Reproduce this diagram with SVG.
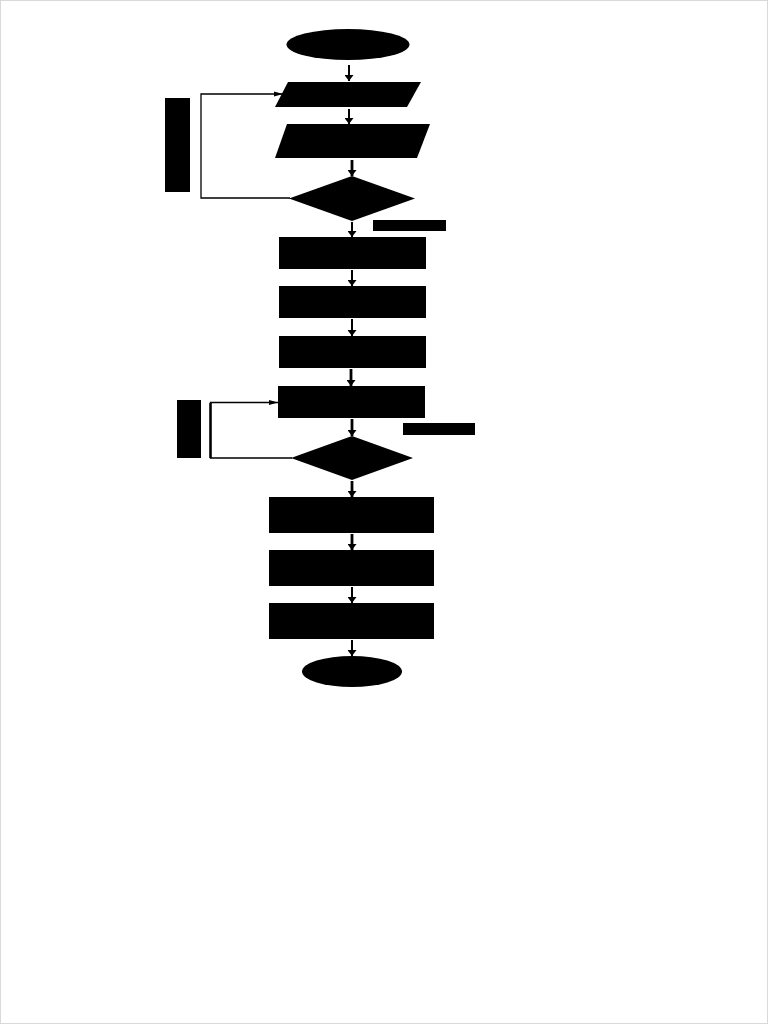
<svg xmlns="http://www.w3.org/2000/svg" width="768" height="1024" viewBox="0 0 768 1024">
<style>
.n{fill:#000;stroke:none}
.c{fill:none;stroke:#000;stroke-width:2}
.k{fill:none;stroke:#000;stroke-width:2.8}
.t{fill:none;stroke:#000;stroke-width:1.3}
</style>
<defs>
<marker id="ah" markerUnits="userSpaceOnUse" markerWidth="6" markerHeight="9" refX="6" refY="4.5" orient="auto">
<path d="M0,0 L6,4.5 L0,9 Z" fill="#000"/>
</marker>
<marker id="ahs" markerUnits="userSpaceOnUse" markerWidth="9" markerHeight="6" refX="9" refY="3" orient="auto">
<path d="M0,0.5 L9,3 L0,5.5 Z" fill="#000"/>
</marker>
</defs>
<rect x="0.5" y="0.5" width="767" height="1023" fill="#fff" stroke="#d9d9d9" stroke-width="1"/>
<g id="connectors">
<line class="c" x1="349" y1="65" x2="349" y2="81" marker-end="url(#ah)"/>
<line class="c" x1="349" y1="109" x2="349" y2="124" marker-end="url(#ah)"/>
<line class="k" x1="352" y1="160" x2="352" y2="176" marker-end="url(#ah)"/>
<line class="c" x1="352" y1="222" x2="352" y2="237" marker-end="url(#ah)"/>
<line class="c" x1="352" y1="270" x2="352" y2="286" marker-end="url(#ah)"/>
<line class="c" x1="352" y1="319" x2="352" y2="336" marker-end="url(#ah)"/>
<line class="k" x1="351" y1="369" x2="351" y2="386" marker-end="url(#ah)"/>
<line class="k" x1="352" y1="419" x2="352" y2="436" marker-end="url(#ah)"/>
<line class="k" x1="352" y1="481" x2="352" y2="497" marker-end="url(#ah)"/>
<line class="k" x1="352" y1="534" x2="352" y2="550" marker-end="url(#ah)"/>
<line class="c" x1="352" y1="587" x2="352" y2="603" marker-end="url(#ah)"/>
<line class="c" x1="352" y1="640" x2="352" y2="656" marker-end="url(#ah)"/>
<polyline class="t" points="290,198 201,198 201,94 283,94" marker-end="url(#ahs)"/>
<polyline class="t" points="292,458 210.5,458 210.5,402.5 278,402.5" marker-end="url(#ahs)"/>
<line stroke="#000" stroke-width="2.5" x1="210.5" y1="403" x2="210.5" y2="458"/>
</g>
<g id="start"><ellipse class="n" cx="348" cy="44.5" rx="61.5" ry="15.5"/></g>
<g id="input1"><polygon class="n" points="288,82 421,82 407,107 275,107"/></g>
<g id="input2"><polygon class="n" points="287,124 430,124 417,158 275,158"/></g>
<g id="decision1"><polygon class="n" points="352,176 415,198.5 352,221 289,198.5"/></g>
<g id="loopLabel1"><rect class="n" x="165" y="98" width="25" height="94"/></g>
<g id="yesLabel1"><rect class="n" x="373" y="220" width="73" height="11"/></g>
<g id="process1"><rect class="n" x="279" y="237" width="147" height="32"/></g>
<g id="process2"><rect class="n" x="279" y="286" width="147" height="32"/></g>
<g id="process3"><rect class="n" x="279" y="336" width="147" height="32"/></g>
<g id="process4"><rect class="n" x="278" y="386" width="147" height="32"/></g>
<g id="decision2"><polygon class="n" points="352,436 413,458 352,480 291,458"/></g>
<g id="loopLabel2"><rect class="n" x="177" y="400" width="24" height="58"/></g>
<g id="yesLabel2"><rect class="n" x="403" y="423" width="72" height="12"/></g>
<g id="process5"><rect class="n" x="269" y="497" width="165" height="36"/></g>
<g id="process6"><rect class="n" x="269" y="550" width="165" height="36"/></g>
<g id="process7"><rect class="n" x="269" y="603" width="165" height="36"/></g>
<g id="end"><ellipse class="n" cx="352" cy="671.5" rx="50" ry="15.5"/></g>
</svg>
